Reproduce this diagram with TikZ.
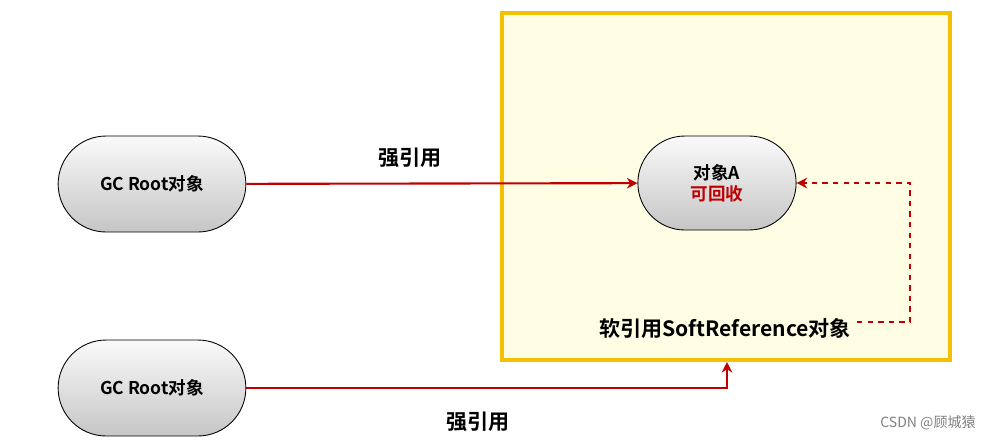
\documentclass[tikz,border=0pt]{standalone}
\usepackage{fontspec}
\setmainfont{Noto Sans CJK SC}
\newfontfamily\cjkb{Noto Sans CJK SC Bold}
\usetikzlibrary{shapes.misc,arrows.meta}
\definecolor{dred}{HTML}{C00000}
\definecolor{boxy}{HTML}{FFFDE3}
\definecolor{boxb}{HTML}{F5C000}
\begin{document}
\begin{tikzpicture}[x=0.02cm,y=-0.02cm,
  pill/.style={rounded rectangle, draw=black, line width=0.5pt, minimum width=3.99cm, minimum height=1.92cm, top color=gray!4, bottom color=gray!45, font=\cjkb\normalsize},
  pillA/.style={pill, minimum width=3.4cm, minimum height=1.88cm},
  ref/.style={draw=dred, line width=1.2pt, -{Stealth[length=6pt,width=6pt]}},
  lbl/.style={font=\cjkb\large}]
\useasboundingbox (0,0) rectangle (985,441);
\draw[boxb, line width=2pt, fill=boxy] (502,13) rectangle (950,360);
\node[pill] (g1) at (152,184) {GC Root对象};
\node[pill] (g2) at (152,388) {GC Root对象};
\node[pillA, align=center] (a) at (717,183) {对象A\\\textcolor{dred}{可回收}};
\node[lbl] (soft) at (725,328) {软引用SoftReference对象};
\node[lbl] (l1) at (410,158) {强引用};
\node[lbl] (l2) at (478,422) {强引用};
\node[font=\footnotesize, text=gray] (w) at (928,423) {CSDN @顾城猿};
\draw[ref] (g1) -- (a);
\coordinate (t2) at (727,362);
\coordinate (c) at (910,322);
\draw[ref] (g2.east) -| (t2);
\draw[ref, dashed] (soft.east |- c) -- (c) |- (a.east);
\end{tikzpicture}
\end{document}
